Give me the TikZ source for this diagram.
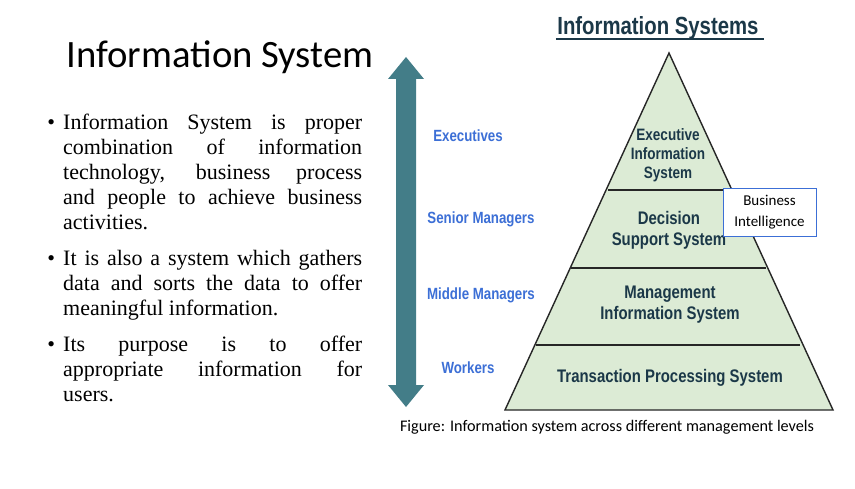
\documentclass[tikz,border=0pt]{standalone}
\usepackage{fontspec}
\setmainfont{Liberation Serif}
\newfontfamily\calfnt{Carlito}
\newfontfamily\nar[FakeStretch=0.82]{Liberation Sans}
\definecolor{pyr}{HTML}{DCEBD5}
\definecolor{lbl}{HTML}{3C6FD6}
\definecolor{dk}{HTML}{1B3848}
\definecolor{teal}{HTML}{437D88}
\tikzset{x=1pt,y=-1pt,
 lvl/.style={text=lbl,font=\nar\bfseries\fontsize{16.2}{18}\selectfont},
 sys/.style={text=dk,font=\nar\bfseries\fontsize{18.2}{21}\selectfont,align=center},
 band/.style={line width=1.6pt,draw=black!85}}
\begin{document}
\begin{tikzpicture}
\useasboundingbox (0,0) rectangle (855,489);
\fill[white] (0,0) rectangle (855,489);
\node[font=\calfnt\fontsize{38.7}{42}\selectfont] (t) at (220,57) {Information System};
\node[anchor=north west,text width=324pt,align=justify,inner sep=0pt,
 font=\fontsize{22}{25}\selectfont] (b) at (38,96) {%
\hyphenpenalty=10000 \exhyphenpenalty=10000
\begin{itemize}\setlength{\itemsep}{7pt}\setlength{\parsep}{0pt}\setlength{\leftmargin}{17pt}\setlength{\labelsep}{8pt}\setlength{\itemindent}{0pt}
\item Information System is proper combination of information technology, business process and people to achieve business activities.
\item It is also a system which gathers data and sorts the data to offer meaningful information.
\item Its purpose is to offer\linebreak appropriate information for\linebreak users.
\end{itemize}};
\fill[teal] (396,79) -- (388,79) -- (406,57) -- (424,79) -- (416,79) -- (416,385) -- (424,385) -- (406,407) -- (388,385) -- (396,385) -- cycle;
\draw[fill=pyr,line width=1.4pt,draw=black!85] (669,53) -- (833,410) -- (505,410) -- cycle;
\draw[band] (608,190) -- (729,190);
\draw[band] (571,268) -- (766,268);
\draw[band] (536,345) -- (800,345);
\node[sys,font=\nar\bfseries\fontsize{16.5}{19}\selectfont] (e) at (668,155) {Executive\\Information\\System};
\node[sys] (d) at (669,230) {Decision\\Support System};
\node[sys] (m) at (670,305) {Management\\Information System};
\node[sys] (tp) at (670,378) {Transaction Processing System};
\node[draw=lbl,fill=white,line width=0.8pt,minimum width=93pt,minimum height=48pt,align=center,
 font=\calfnt\fontsize{15}{21}\selectfont] (bi) at (769.5,212) {Business\\Intelligence};
\node[lvl] (l1) at (468,136) {Executives};
\node[lvl] (l2) at (481,219) {Senior Managers};
\node[lvl] (l3) at (481,295) {Middle Managers};
\node[lvl] (l4) at (468,368) {Workers};
\node[font=\nar\bfseries\fontsize{24.8}{27}\selectfont,text=dk] (ti) at (660,28) {Information Systems\,};
\draw[dk,line width=1.4pt] ([xshift=2pt,yshift=4pt]ti.south west) -- ([xshift=-2pt,yshift=4pt]ti.south east);
\node[font=\calfnt\fontsize{16.2}{18}\selectfont] (cap) at (607,427) {Figure: Information system across different management levels};
\end{tikzpicture}
\end{document}
